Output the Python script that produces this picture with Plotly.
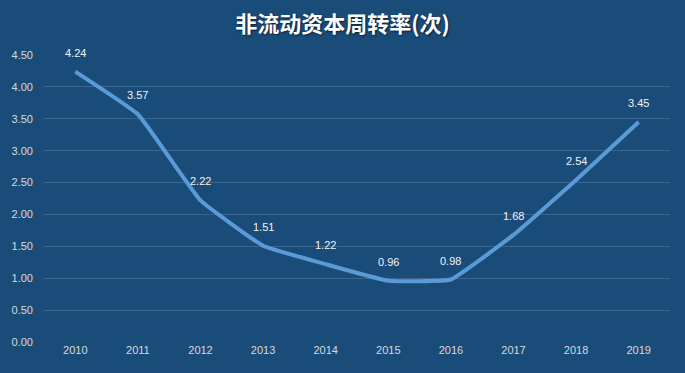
import plotly.graph_objects as go

years = ["2010", "2011", "2012", "2013", "2014", "2015", "2016", "2017", "2018", "2019"]
values = [4.24, 3.57, 2.22, 1.51, 1.22, 0.96, 0.98, 1.68, 2.54, 3.45]
labels = ["4.24", "3.57", "2.22", "1.51", "1.22", "0.96", "0.98", "1.68", "2.54", "3.45"]
y_ticks = [0, 0.5, 1.0, 1.5, 2.0, 2.5, 3.0, 3.5, 4.0, 4.5]

bg = "#1a4c7a"
fig = go.Figure()
fig.add_trace(go.Scatter(
    x=years, y=values, mode="lines",
    line=dict(color="#5b9bd5", width=4, shape="spline", smoothing=0.3),
    hoverinfo="skip",
))
for i, (v, lab) in enumerate(zip(values, labels)):
    fig.add_annotation(x=i, y=v, text=lab, showarrow=False, yshift=19,
                       xanchor="center", yanchor="middle",
                       font=dict(color="#f2f2f2", size=11, family="Liberation Sans"))
fig.update_layout(
    width=685, height=373,
    paper_bgcolor=bg, plot_bgcolor=bg,
    margin=dict(l=44, r=15, t=55, b=31),
    showlegend=False,
    title=dict(text="<b>非流动资本周转率(次)</b>", x=0.5, xanchor="center", y=0.935, yanchor="middle",
               font=dict(color="#ffffff", size=22, family="Noto Sans CJK SC",
                         shadow="1px 1px 2px rgba(0,0,0,0.6)")),
    xaxis=dict(type="category", categoryarray=years, range=[-0.5, len(years) - 0.5],
               showgrid=False, zeroline=False, showline=False, automargin=False,
               tickfont=dict(color="#d9d9d9", size=11, family="Liberation Sans"), ticks=""),
    yaxis=dict(range=[0, 4.5], tickvals=y_ticks, tickformat=".2f", automargin=False,
               ticklabelstandoff=10,
               showgrid=True, gridcolor="rgba(255,255,255,0.15)", gridwidth=1,
               zeroline=False, showline=False, ticks="",
               tickfont=dict(color="#d9d9d9", size=11, family="Liberation Sans")),
)
fig.write_html("out.html", config={"displayModeBar": False},
               post_script="document.body.style.margin='0';document.body.style.background='%s';" % bg)
